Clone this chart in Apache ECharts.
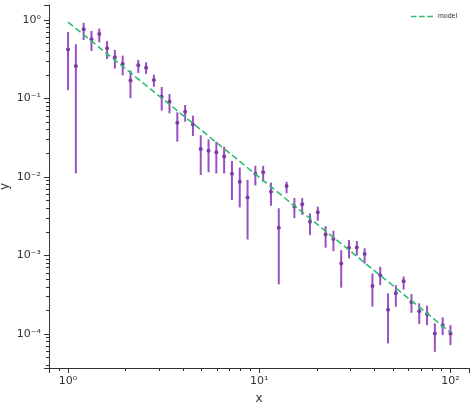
<!DOCTYPE html>
<html>
<head>
<meta charset="utf-8">
<script src="https://cdn.jsdelivr.net/npm/echarts@6/dist/echarts.min.js"></script>
<style>html,body{margin:0;padding:0;background:#fff}#main{width:474px;height:408px}</style>
</head>
<body>
<div id="main"></div>
<script>
// observed y values, with lower / upper ends of each error bar
var yVals = [0.42, 0.26, 0.76, 0.568, 0.66, 0.436, 0.335, 0.275, 0.169, 0.265,
    0.247, 0.172, 0.105, 0.091, 0.0492, 0.068, 0.0468, 0.0228, 0.0216, 0.0206,
    0.0182, 0.011, 0.0087, 0.0055, 0.011, 0.0115, 0.0065, 0.00226, 0.0077, 0.0042,
    0.0045, 0.0027, 0.00355, 0.00186, 0.00162, 0.00079, 0.00126, 0.00127, 0.00105, 0.00041,
    0.00056, 0.000204, 0.00033, 0.00047, 0.000257, 0.000195, 0.00018, 0.000102, 0.00013, 0.000102];
var yLow = [0.128, 0.0111, 0.556, 0.403, 0.52, 0.318, 0.24, 0.197, 0.101, 0.211,
    0.205, 0.141, 0.070, 0.0647, 0.0282, 0.0507, 0.0333, 0.0106, 0.0115, 0.0111,
    0.0111, 0.0051, 0.0041, 0.0016, 0.0078, 0.0087, 0.0043, 0.00043, 0.0062, 0.003,
    0.0033, 0.00182, 0.00277, 0.00126, 0.00114, 0.00039, 0.00092, 0.001, 0.00079, 0.000223,
    0.00042, 0.000076, 0.000223, 0.00037, 0.000187, 0.000134, 0.00013, 0.0000595, 0.000097, 0.0000724];
var yHigh = [0.70, 0.49, 0.92, 0.724, 0.776, 0.54, 0.415, 0.351, 0.226, 0.31,
    0.289, 0.201, 0.14, 0.114, 0.0667, 0.0826, 0.0604, 0.034, 0.0302, 0.0282,
    0.0243, 0.016, 0.0132, 0.0092, 0.0139, 0.0139, 0.0085, 0.004, 0.0087, 0.0054,
    0.0054, 0.00345, 0.0042, 0.00238, 0.00207, 0.00117, 0.00158, 0.00153, 0.00124, 0.00059,
    0.00072, 0.00033, 0.00042, 0.00054, 0.000323, 0.000246, 0.00023, 0.000137, 0.000163, 0.00013];
// x positions: 50 log-spaced points between 1 and 100
var xVals = [];
for (var i = 0; i < 50; i++) xVals.push(Math.pow(10, 2 * i / 49));
var modelX = [1, 100];
var modelY = [0.94, 0.000105];

var sup = {'-': '⁻', '0': '⁰', '1': '¹', '2': '²', '3': '³', '4': '⁴'};
function powLabel(v) {
    var e = Math.round(Math.log10(v));
    if (Math.abs(Math.log10(v) - e) > 1e-6) return '';
    return '10' + String(e).split('').map(function (c) { return sup[c]; }).join('');
}

var purple = '#9b4fc2';
var points = xVals.map(function (x, i) { return [x, yVals[i], yLow[i], yHigh[i]]; });

var myChart = echarts.init(document.getElementById('main'));
var axisCommon = {
    type: 'log',
    logBase: 10,
    axisLine: {show: true, lineStyle: {color: '#333', width: 1}},
    axisTick: {show: true, length: 5, lineStyle: {color: '#333'}},
    minorTick: {show: true, splitNumber: 9, length: 3, lineStyle: {color: '#333'}},
    splitLine: {show: false},
    axisLabel: {color: '#333', fontSize: 11, fontFamily: 'DejaVu Sans', formatter: powLabel},
    nameLocation: 'middle',
    nameMoveOverlap: false,
    nameTextStyle: {color: '#333', fontSize: 12, fontFamily: 'DejaVu Sans'}
};
var option = {
    animation: false,
    grid: {left: 49, right: 5, top: 5, bottom: 40, containLabel: false, outerBoundsMode: 'none'},
    legend: {
        top: 8, right: 12, itemWidth: 22, itemHeight: 6,
        textStyle: {fontSize: 7, color: '#333'},
        data: [{name: 'model', icon: 'path://M0,0H4V1H0ZM6,0H10V1H6ZM12,0H16V1H12Z'}]
    },
    xAxis: Object.assign({}, axisCommon, {min: 0.795, max: 125, name: 'x', nameGap: 25}),
    yAxis: Object.assign({}, axisCommon, {min: 0.000037, max: 1.55, name: 'y', nameGap: 38}),
    series: [
        {
            name: 'data',
            type: 'custom',
            data: points,
            renderItem: function (params, api) {
                var p = api.coord([api.value(0), api.value(1)]);
                var lo = api.coord([api.value(0), api.value(2)]);
                var hi = api.coord([api.value(0), api.value(3)]);
                return {
                    type: 'group',
                    children: [
                        {type: 'line', shape: {x1: p[0], y1: lo[1], x2: p[0], y2: hi[1]},
                            style: {stroke: purple, lineWidth: 2}},
                        {type: 'circle', shape: {cx: p[0], cy: p[1], r: 2},
                            style: {fill: '#7d3aa0'}}
                    ]
                };
            }
        },
        {
            name: 'model',
            type: 'line',
            data: modelX.map(function (x, i) { return [x, modelY[i]]; }),
            symbol: 'none',
            color: '#2dbd6e',
            lineStyle: {type: 'dashed', width: 1.6, color: '#2dbd6e'},
            z: 5
        }
    ]
};
myChart.setOption(option);
</script>
</body>
</html>
